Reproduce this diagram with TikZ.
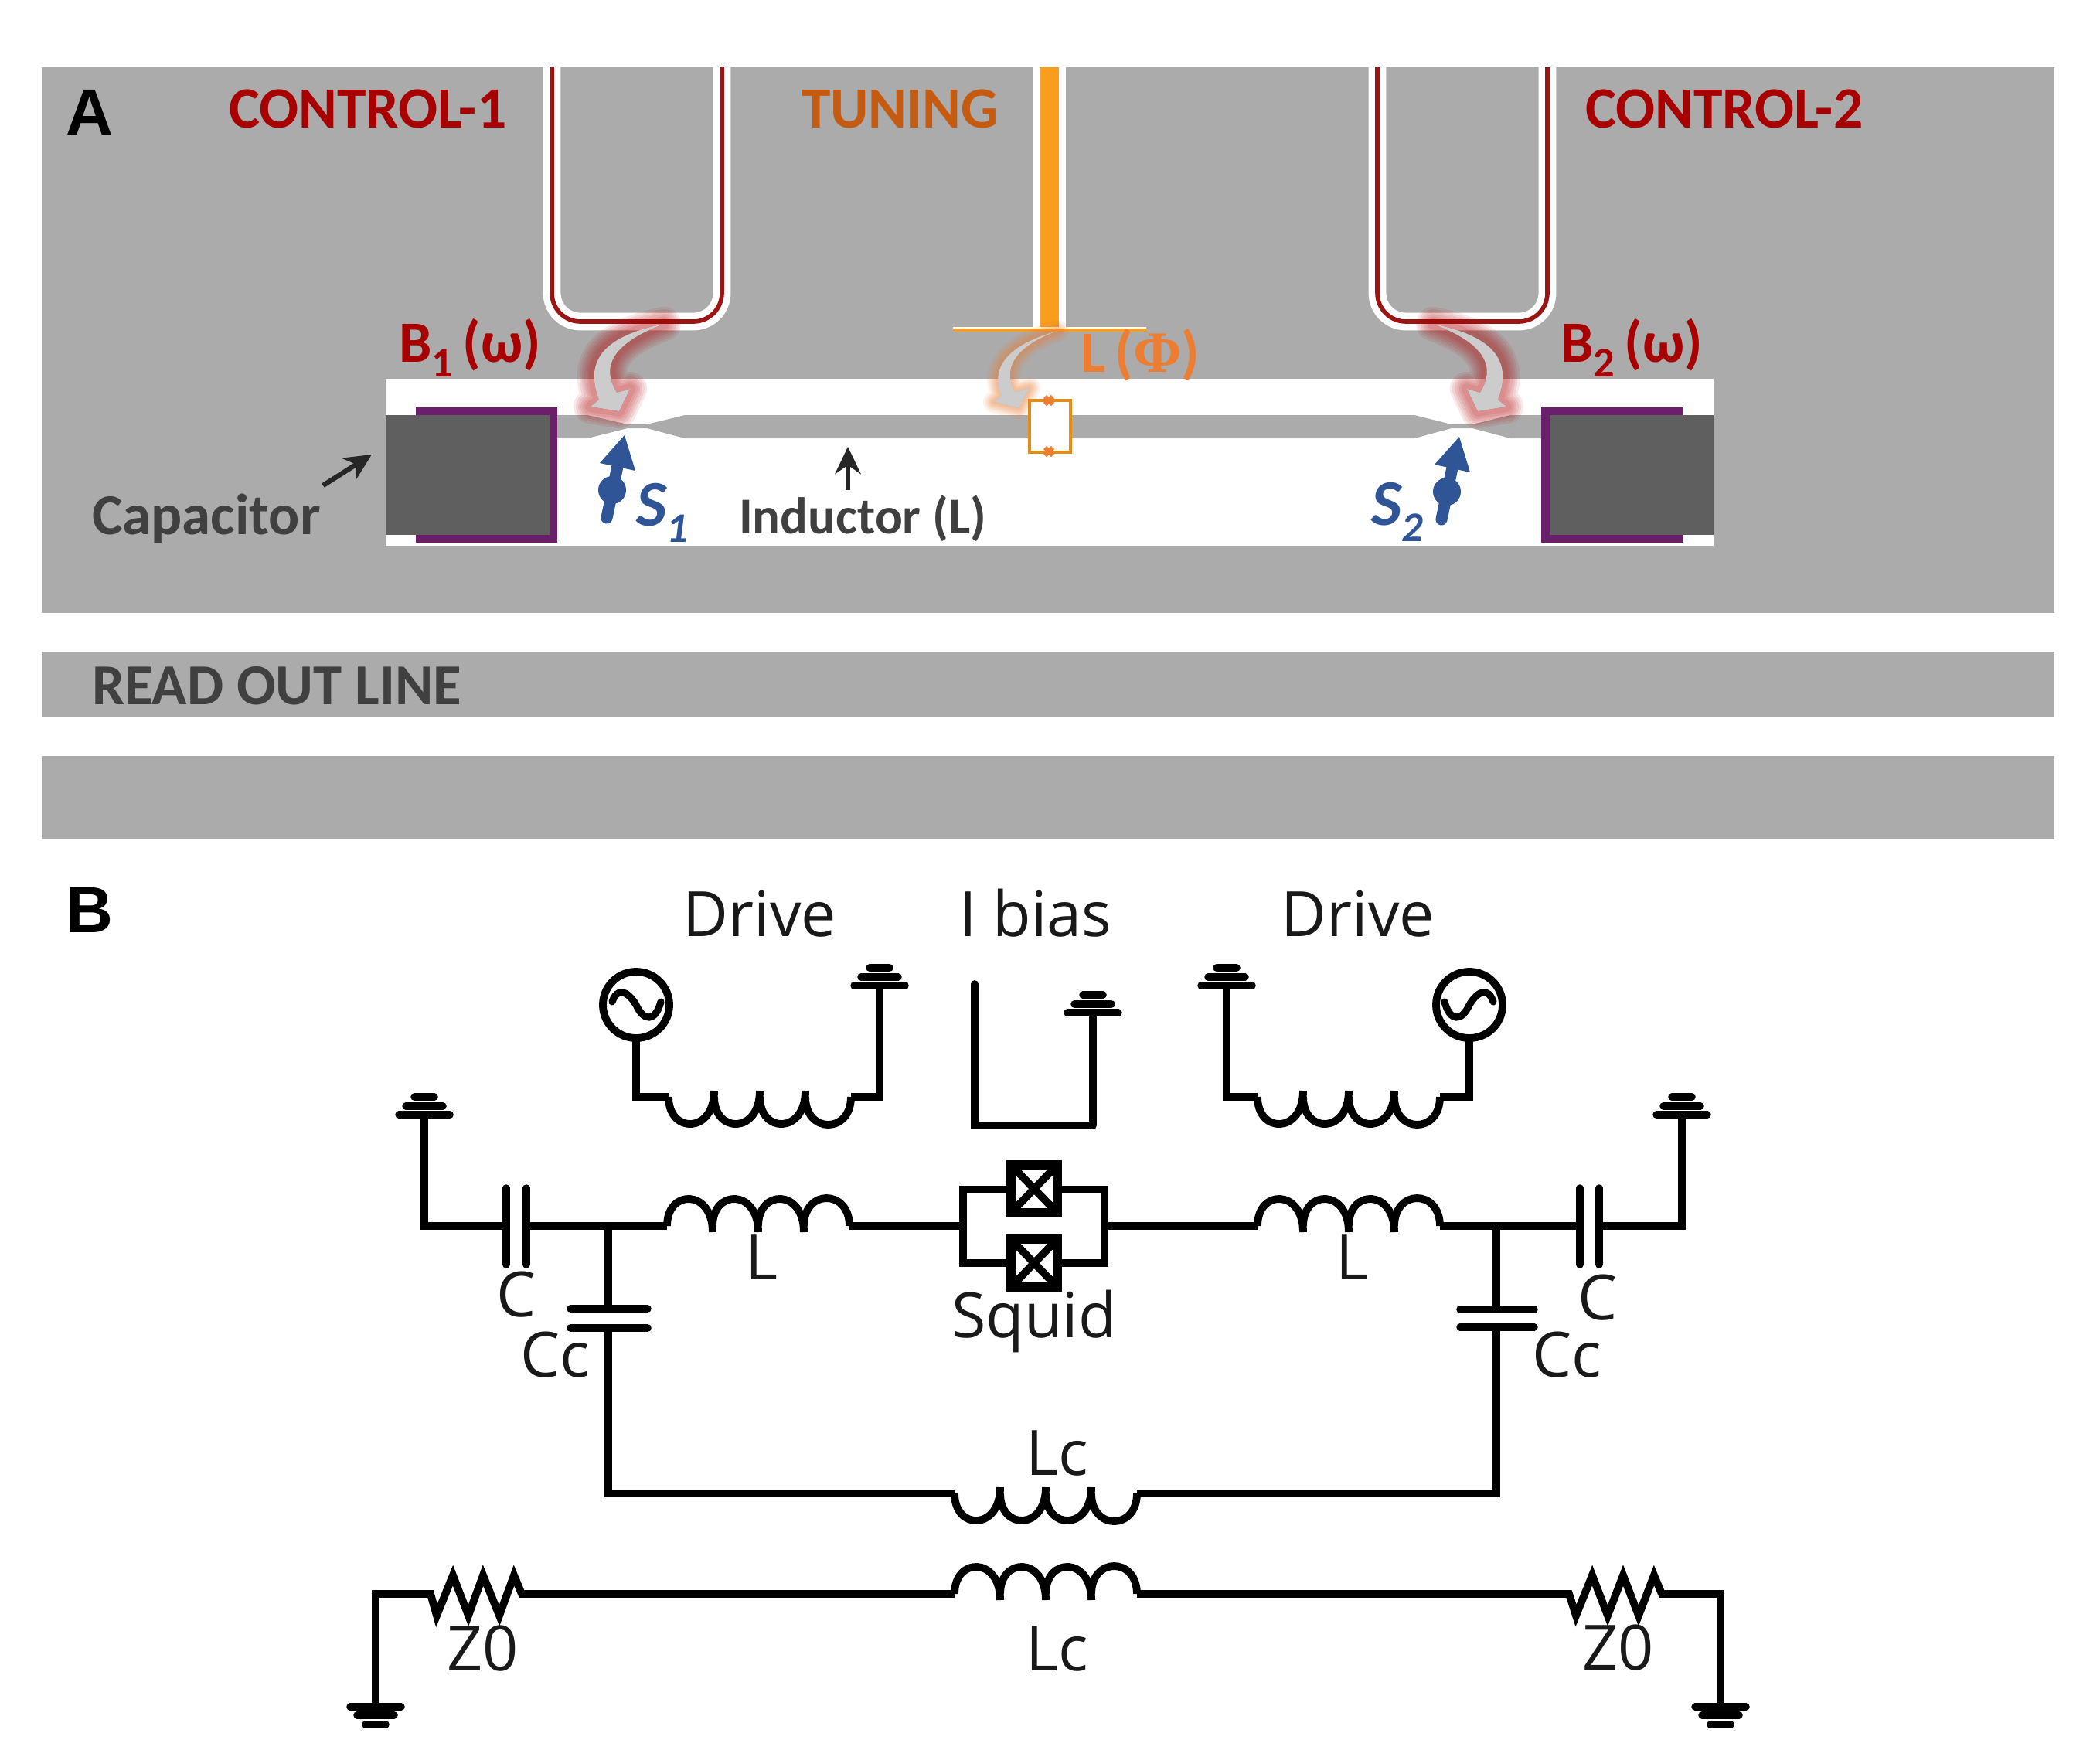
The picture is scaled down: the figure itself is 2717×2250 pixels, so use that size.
\documentclass[tikz,border=0pt]{standalone}
\usepackage{fontspec}
\setmainfont{Carlito}
\newfontfamily\circfont{Open Sans}
\newfontfamily\panelfont{Liberation Sans}
\newfontfamily\phifont{Liberation Serif}
\usetikzlibrary{arrows.meta}

\definecolor{chipgray}{HTML}{ABABAB}
\definecolor{capgray}{HTML}{5F5F5F}
\definecolor{capframe}{HTML}{6A1F6A}
\definecolor{ctrlred}{HTML}{A80000}
\definecolor{looppred}{HTML}{9B1515}
\definecolor{tunetext}{HTML}{C55A11}
\definecolor{tunebar}{HTML}{F99D1C}
\definecolor{fluxorange}{HTML}{ED7D31}
\definecolor{spinblue}{HTML}{2F5597}
\definecolor{darktext}{HTML}{404040}

\newcommand{\subtext}[3]{\raisebox{-#1}{\fontsize{#2}{#2}\selectfont #3}}
% outline of the curved arrows
\newcommand{\fieldpath}{(859,419) .. controls (795,432) and (752,458) .. (775,517)
    -- (764,526) -- (801,532) -- (815,503) -- (798,508)
    .. controls (778,475) and (790,445) .. (859,419) -- cycle}
\newcommand{\tunepath}{(1368,428) .. controls (1320,442) and (1278,465) .. (1295,512)
    -- (1286,520) -- (1318,528) -- (1332,502) -- (1313,507)
    .. controls (1298,480) and (1308,450) .. (1368,428) -- cycle}

\tikzset{
    txt/.style={inner sep=0pt,outer sep=0pt,anchor=base west},
    ctrl/.style={txt,font=\fontsize{21.5}{24}\selectfont\bfseries,text=ctrlred},
    dark/.style={txt,font=\fontsize{21.3}{24}\selectfont\bfseries,text=darktext},
    spinlbl/.style={txt,font=\fontsize{24}{26}\selectfont\bfseries\itshape,text=spinblue},
    panel/.style={txt,font=\panelfont\fontsize{24}{26}\selectfont\bfseries,text=black},
    circ/.style={inner sep=0pt,outer sep=0pt,anchor=base,font=\circfont\fontsize{23}{26}\selectfont,text=black!90},
    wire/.style={black,line width=2.8pt,line join=miter},
    plate/.style={black,line width=2.7pt,line cap=round},
    gndbar/.style={black,line width=2.7pt,line cap=round},
    darrow/.style={-{Stealth[length=10pt,width=9.5pt]},line width=1.8pt,black!85},
    coil/.pic={
        \foreach \i/\e in {0/8,59/8,118/8,177/0}
            \draw[wire] (\i,0) .. controls (\i,-48) and (\i+59,-48) .. (\i+59,\e);
    },
    gnd/.pic={
        \draw[gndbar] (-33,0) -- (33,0);
        \draw[gndbar] (-24,-11) -- (24,-11);
        \draw[gndbar] (-13,-23) -- (13,-23);
    },
    jj/.pic={
        \draw[black,line width=3.2pt,fill=white] (-30,-31) rectangle (30,31);
        \draw[black,line width=2.8pt] (-30,-31) -- (30,31) (-30,31) -- (30,-31);
    },
    acsource/.pic={
        \draw[black,line width=2.8pt,fill=white] (0,0) circle (43);
        \draw[black,line width=2.6pt,line cap=round] (-31,-4) .. controls (-25,-22) and (-12,-20) .. (0,0)
            .. controls (10,22) and (25,22) .. (32,-4);
    },
    spin/.pic={
        \draw[spinblue,line width=4.3pt,line cap=round] (-9,40) -- (-23,107);
        \fill[spinblue] (0,0) -- (14,46) -- (-32,36) -- cycle;
        \fill[spinblue] (-16,71) circle (18);
    },
    junctionx/.pic={
        \draw[fluxorange,line width=1.7pt] (-5,-5) -- (5,5) (-5,5) -- (5,-5);
    },
    fieldhalo/.pic={
        \foreach \w in {14,20,26,32,38,44}
            \filldraw[red!70!black,opacity=.09,line width=\w*0.2845pt,line join=round] \fieldpath;
        \fill[black!20] \fieldpath;
    },
}

\begin{document}
\begin{tikzpicture}[x=0.01cm,y=-0.01cm]
    \useasboundingbox[fill=white] (0,0) rectangle (2717,2250);

    % Chip panels
    \fill[chipgray] (54,87) rectangle (2658,793);
    \fill[chipgray] (54,843) rectangle (2658,928);
    \fill[chipgray] (54,978) rectangle (2658,1086);
    \fill[white] (499,490) rectangle (2217,706);

    % Inductor strip with the two constrictions
    \fill[chipgray] (499,537) -- (760,537) -- (812,549) -- (837,549) -- (886,537) -- (1830,537)
        -- (1878,549) -- (1905,549) -- (1954,537) -- (2217,537) -- (2217,567) -- (1954,567)
        -- (1905,554) -- (1878,554) -- (1830,567) -- (886,567) -- (837,554) -- (812,554)
        -- (760,567) -- (499,567) -- cycle;

    % Capacitors
    \fill[capframe] (538,527) rectangle (721,702);
    \fill[capgray] (499,537) rectangle (711,692);
    \fill[capframe] (2178,527) rectangle (1994,702);
    \fill[capgray] (2217,537) rectangle (2005,692);

    % Control loops
    \foreach \cx in {824,1892}{
        \draw[white,line width=6.5pt,rounded corners=10.5pt] (\cx-110,87) -- (\cx-110,416) -- (\cx+110,416) -- (\cx+110,87);
        \draw[looppred,line width=1.6pt,rounded corners=10.5pt] (\cx-110,87) -- (\cx-110,416) -- (\cx+110,416) -- (\cx+110,87);
    }

    % Tuning line
    \fill[white] (1336,87) rectangle (1379,424);
    \fill[tunebar] (1345,87) rectangle (1370,425);
    \fill[white] (1233,423) rectangle (1483,425);
    \fill[tunebar] (1233,425) rectangle (1483,429);

    % Small loop of the tunable inductor
    \draw[tunebar!90!black,line width=1.1pt,fill=white] (1332,518) rectangle (1385,585);
    \pic at (1357,518) {junctionx};
    \pic at (1357,584) {junctionx};

    % Curved arrows
    \pic {fieldhalo};
    \pic[xscale=-1] at (2713,0) {fieldhalo};
    \foreach \w in {6,10,14,18,22,28}
        \filldraw[fluxorange,opacity=.1,line width=\w*0.2845pt,line join=round] \tunepath;
    \fill[black!20] \tunepath;

    % Spins
    \pic at (808,563) {spin};
    \pic at (1888,565) {spin};

    % Labels of panel A
    \node[panel] (labA) at (85,174) {A};
    \node[ctrl] (ctrlA) at (296,165) {CONTROL-1};
    \node[ctrl] (ctrlB) at (2051,165) {CONTROL-2};
    \node[ctrl,text=tunetext] (tuning) at (1037,165) {TUNING};
    \node[ctrl] (fieldA) at (516,468) {B\subtext{5.4pt}{15.5}{1}\,(ω)};
    \node[ctrl] (fieldB) at (2019,468) {B\subtext{5.4pt}{15.5}{2}\,(ω)};
    \node[ctrl,text=fluxorange] (flux) at (1398,481) {L\,({\phifont Φ})};
    \node[spinlbl] (spinA) at (823,680) {S\subtext{6pt}{15.5}{1}};
    \node[spinlbl] (spinB) at (1774,679) {S\subtext{6pt}{15.5}{2}};
    \node[dark] (capA) at (119,691) {Capacitor};
    \node[dark,font=\fontsize{19}{22}\selectfont\bfseries] (indA) at (956,690) {Inductor (L)};
    \node[dark] (readout) at (119,911) {READ OUT LINE};
    \coordinate (capTip) at (481,588);
    \coordinate (indTip) at (1097,578);
    \draw[darrow] (418,628) -- (capTip);
    \draw[darrow] (1097,634) -- (indTip);

    % Panel B
    \node[panel] (labB) at (85,1206) {B};
    \node[circ] (driveA) at (983,1211) {Drive};
    \node[circ] (ibias) at (1340,1211) {I bias};
    \node[circ] (driveB) at (1757,1211) {Drive};
    \node[circ] (squidlbl) at (1338,1730) {Squid};
    \node[circ] (capLblA) at (668,1703) {C};
    \node[circ] (capLblB) at (2067,1707) {C};
    \node[circ] (indLblA) at (985,1655) {L};
    \node[circ] (indLblB) at (1749,1655) {L};
    \node[circ] (ccLblA) at (718,1781) {Cc};
    \node[circ] (ccLblB) at (2027,1781) {Cc};
    \node[circ] (lcUp) at (1368,1908) {Lc};
    \node[circ] (lcLow) at (1368,2161) {Lc};
    \node[circ] (zA) at (625,2161) {Z0};
    \node[circ] (zB) at (2094,2160) {Z0};

    % Drive coils
    \pic at (823,1300) {acsource};
    \coordinate (gndDriveA) at (1138,1275);
    \pic at (gndDriveA) {gnd};
    \draw[wire] (823,1344) |- (865,1419);
    \pic at (865,1419) [yscale=-1] {coil};
    \draw[wire] (1101,1419) -| (gndDriveA);

    \pic[xscale=-1] at (1901,1300) {acsource};
    \coordinate (gndDriveB) at (1587,1275);
    \pic at (gndDriveB) {gnd};
    \draw[wire] (gndDriveB) |- (1627,1419);
    \pic at (1627,1419) [yscale=-1] {coil};
    \draw[wire] (1863,1419) -| (1901,1344);

    % Bias loop
    \coordinate (gndBias) at (1414,1310);
    \pic at (gndBias) {gnd};
    \draw[wire,line cap=round] (1261,1273) |- (1414,1456);
    \draw[wire] (1414,1456) -- (gndBias);

    % Main line
    \coordinate (gndMainA) at (549,1442);
    \coordinate (gndMainB) at (2176,1442);
    \pic at (gndMainA) {gnd};
    \pic at (gndMainB) {gnd};
    \draw[wire] (gndMainA) |- (655,1586) (681,1586) -- (863,1586);
    \draw[plate] (655,1537) -- (655,1636) (681,1537) -- (681,1636);
    \pic at (863,1586) {coil};
    \draw[wire] (1099,1586) -- (1246,1586);
    \draw[black,line width=2.9pt] (1246,1539) rectangle (1429,1634);
    \pic at (1338,1538) {jj};
    \pic at (1338,1634) {jj};
    \draw[wire] (1429,1586) -- (1627,1586);
    \pic at (1627,1586) {coil};
    \draw[wire] (1863,1586) -- (2044,1586) (2069,1586) -| (gndMainB);
    \draw[plate] (2044,1537) -- (2044,1636) (2069,1537) -- (2069,1636);

    % Coupling branch
    \draw[wire] (787,1586) -- (787,1693) (787,1718) |- (1235,1932);
    \draw[plate] (738,1693) -- (838,1693) (738,1718) -- (838,1718);
    \draw[wire] (1936,1586) -- (1936,1694) (1936,1717) |- (1471,1932);
    \draw[plate] (1889,1694) -- (1985,1694) (1889,1717) -- (1985,1717);
    \pic at (1235,1932) [yscale=-1] {coil};

    % Read out line
    \coordinate (gndReadA) at (486,2208);
    \coordinate (gndReadB) at (2226,2208);
    \pic at (gndReadA) [yscale=-1] {gnd};
    \pic at (gndReadB) [yscale=-1] {gnd};
    \draw[wire] (gndReadA) |- (557,2062) -- (565,2090) -- (586,2038) -- (606,2090) -- (625,2038) -- (646,2090) -- (665,2038) -- (675,2062) -- (1235,2062);
    \pic at (1235,2062) {coil};
    \draw[wire] (1471,2062) -- (2030,2062) -- (2039,2090) -- (2060,2038) -- (2080,2090) -- (2100,2038) -- (2120,2090) -- (2140,2038) -- (2150,2062) -| (gndReadB);
\end{tikzpicture}
\end{document}
